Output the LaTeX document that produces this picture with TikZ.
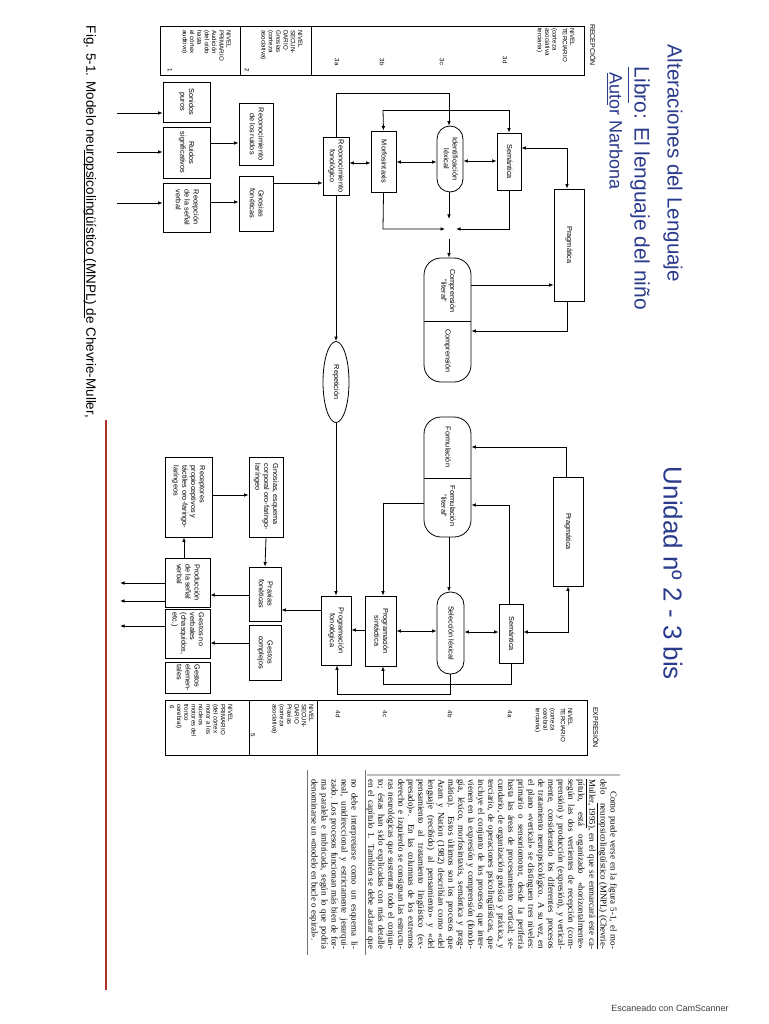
\documentclass[tikz,border=0pt]{standalone}
\usepackage{fontspec}
\setmainfont{Liberation Sans}
\newfontfamily\serifpar{Liberation Serif}
\usepackage{graphicx}
\usetikzlibrary{arrows.meta,shapes.geometric}
\definecolor{inkblue}{HTML}{2A3A8C}
\definecolor{redpen}{HTML}{B0302A}
\newcommand{\rc}[1]{\rotatebox{-90}{\begin{tabular}{@{}c@{}}#1\end{tabular}}}
\newcommand{\rl}[1]{\rotatebox{-90}{\begin{tabular}{@{}l@{}}#1\end{tabular}}}
\newcommand{\jl}[1]{\makebox[170pt][s]{#1}\par}
\newcommand{\nl}[1]{\mbox{#1}\par}
\begin{document}
\begin{tikzpicture}[x=1pt,y=-1pt,
  font=\fontsize{7.3}{8.8}\selectfont,
  bx/.style={draw, line width=0.8pt, inner sep=0pt},
  ln/.style={line width=0.8pt},
  arr/.style={ln,-{Latex[length=4.5pt,width=3.6pt]}},
  darr/.style={ln,{Latex[length=4.5pt,width=3.6pt]}-{Latex[length=4.5pt,width=3.6pt]}},
  hdr/.style={inner sep=0pt, font=\fontsize{6.2}{7.3}\selectfont},
  lab/.style={inner sep=0pt, font=\fontsize{6.2}{7}\selectfont},
  hw/.style={inner sep=0pt, text=inkblue}]
\useasboundingbox (0,0) rectangle (768,1024);
\fill[white] (0,0) rectangle (768,1024);

% ---------- header RECEPCION ----------
\node[bx, minimum width=424pt, minimum height=49pt] (hdrR) at (372,50.5) {};
\draw[ln] (240,26) -- (240,75);
\draw[ln] (311,26) -- (311,75);
\node[hdr, anchor=north east] (h1t) at (232,30) {\rl{NIVEL\\PRIMARIO\\Audición\\(del oído\\hasta\\el córtex\\auditivo)}};
\node[lab] (n1) at (170,70) {\rotatebox{-90}{1}};
\node[hdr, anchor=north east] (h2t) at (303.5,30) {\rl{NIVEL\\SECUN-\\DARIO\\Gnosias\\(corteza\\asociativa)}};
\node[lab] (n2) at (247,70) {\rotatebox{-90}{2}};
\node[hdr, anchor=north east] (h3t) at (575.5,28) {\rl{NIVEL\\TERCIARIO\\[3pt](corteza\\asociativa\\terciaria)}};
\node[lab] (l3a) at (337,62) {\rotatebox{-90}{3\,a}};
\node[lab] (l3b) at (382,62) {\rotatebox{-90}{3\,b}};
\node[lab] (l3c) at (442,62) {\rotatebox{-90}{3\,c}};
\node[lab] (l3d) at (505,60) {\rotatebox{-90}{3\,d}};
\node[inner sep=0pt, anchor=north, font=\fontsize{7}{8}\selectfont] (recep) at (593,24) {\rotatebox{-90}{RECEPCIÓN}};

% ---------- header EXPRESION ----------
\node[bx, minimum width=422pt, minimum height=55pt] (hdrE) at (376,727.5) {};
\draw[ln] (249,700) -- (249,755);
\draw[ln] (317,700) -- (317,755);
\node[hdr, anchor=north east] (h6t) at (233.5,704) {\rl{NIVEL\\PRIMARIO\\(del córtex\\motor a los\\núcleos\\motores del\\tronco\\cerebral)}};
\node[lab] (n6) at (172,707) {\rotatebox{-90}{6}};
\node[hdr, anchor=north east] (h5t) at (314.5,704) {\rl{NIVEL\\SECUN-\\DARIO\\Praxias\\(corteza\\asociativa)}};
\node[lab] (n5) at (253,735) {\rotatebox{-90}{5}};
\node[hdr, anchor=north east] (h4t) at (573.5,708) {\rl{NIVEL\\TERCIARIO\\[3pt](corteza\\cerebral\\terciaria)}};
\node[lab] (l4a) at (510,714) {\rotatebox{-90}{4a}};
\node[lab] (l4b) at (450,714) {\rotatebox{-90}{4b}};
\node[lab] (l4c) at (385,714) {\rotatebox{-90}{4c}};
\node[lab] (l4d) at (338,714) {\rotatebox{-90}{4d}};
\node[inner sep=0pt, anchor=north, font=\fontsize{7}{8}\selectfont] (expr) at (596,707) {\rotatebox{-90}{EXPRESIÓN}};

% ---------- reception boxes ----------
\node[bx, minimum width=47pt, minimum height=40pt] (sonidos) at (186.5,102) {\rc{Sonidos\\puros}};
\node[bx, minimum width=47pt, minimum height=51pt] (ruidos) at (186.5,152.5) {\rc{Ruidos\\significativos}};
\node[bx, minimum width=47pt, minimum height=49pt] (recsenal) at (186.5,207.5) {\rl{Recepción\\de la señal\\verbal}};
\node[bx, minimum width=34pt, minimum height=62pt] (recruidos) at (256,134) {\rc{Reconocimiento\\de los ruidos}};
\node[bx, minimum width=34pt, minimum height=55pt] (gnfon) at (256,203.5) {\rc{Gnosias\\fonéticas}};
\node[bx, minimum width=26pt, minimum height=58pt] (recfon) at (336,166) {\rc{Reconocimiento\\fonológico}};
\node[bx, minimum width=25pt, minimum height=61pt] (morfo) at (383.5,161.5) {\rc{Morfosintaxis}};
\node[bx, rounded corners=13pt, minimum width=26pt, minimum height=66pt] (ident) at (450,159) {\rc{Identificación\\léxical}};
\node[bx, minimum width=24pt, minimum height=57pt] (sem1) at (509,161.5) {\rc{Semántica}};
\node[bx, minimum width=30pt, minimum height=112pt] (prag1) at (569,245) {\rc{Pragmática}};
\node[bx, rounded corners=17pt, minimum width=47pt, minimum height=124pt] (compr) at (447.5,320) {};
\draw[ln] (compr.west |- 0,321) -- (compr.east |- 0,321);
\node[inner sep=0pt] (comprlit) at (447.5,291) {\rc{Comprensión\\"literal"}};
\node[inner sep=0pt] (compr2) at (447.5,351) {\rc{Comprensión}};
\node[bx, ellipse, minimum width=26pt, minimum height=81pt] (repet) at (336,382) {\rc{Repetición}};

% ---------- expression boxes ----------
\node[bx, rounded corners=17pt, minimum width=47pt, minimum height=120pt] (form) at (447.5,477) {};
\draw[ln] (form.west |- 0,478) -- (form.east |- 0,478);
\node[inner sep=0pt] (form1) at (447.5,447) {\rc{Formulación}};
\node[inner sep=0pt] (form2) at (447.5,506) {\rc{Formulación\\"literal"}};
\node[bx, minimum width=30pt, minimum height=109pt] (prag2) at (568,531.5) {\rc{Pragmática}};
\node[bx, minimum width=24pt, minimum height=59pt] (sem2) at (511,633.5) {\rc{Semántica}};
\node[bx, rounded corners=13pt, minimum width=27pt, minimum height=82pt] (selec) at (450.5,633) {\rc{Selección léxical}};
\node[bx, minimum width=31pt, minimum height=70pt] (progsin) at (380.5,631) {\rc{Programación\\sintáctica}};
\node[bx, minimum width=30pt, minimum height=69pt] (progfon) at (336,630.5) {\rc{Programación\\fonológica}};
\node[bx, minimum width=32pt, minimum height=54pt] (praxfon) at (265,594) {\rc{Praxias\\fonéticas}};
\node[bx, minimum width=32pt, minimum height=55pt] (gestcomp) at (265,652.5) {\rc{Gestos\\complejos}};
\node[bx, minimum width=34pt, minimum height=80pt] (gnosesq) at (266,497) {\rl{Gnosias, esquema\\corporal oro-faringo-\\laríngeo}};
\node[bx, minimum width=47pt, minimum height=80pt] (recept) at (188.5,497) {\rl{Receptores\\propioceptivos y\\táctiles oro-faringo-\\laríngeos}};
\node[bx, minimum width=45pt, minimum height=49pt] (prodsenal) at (187.5,582.5) {\rl{Producción\\de la señal\\verbal}};
\node[bx, minimum width=45pt, minimum height=49pt] (gestnov) at (187.5,633.5) {\rl{Gestos no\\verbales\\(chasquidos,\\etc.)}};
\node[bx, minimum width=45pt, minimum height=31pt] (gestelem) at (187.5,677.5) {\rl{Gestos\\elemen-\\tales}};

% ---------- reception connectors ----------
\coordinate (in1) at (117,113);
\coordinate (in2) at (117,152);
\coordinate (in3) at (117,203);
\draw[arr] (in1) -- (in1 -| sonidos.west);
\draw[arr] (in2) -- (in2 -| ruidos.west);
\draw[arr] (in3) -- (in3 -| recsenal.west);
\draw[arr] (ruidos.east |- 0,143) -- (recruidos.west |- 0,143);
\draw[arr] (recsenal.east |- 0,202) -- (gnfon.west |- 0,202);
\draw[arr] (gnfon.east |- 0,183) -- (recfon.west |- 0,183);
\draw[arr] (recfon.north) -- (336,93) -- (449,93) -- (449,0 |- ident.north);
\draw[ln] (383,110) -- (509,110);
\draw[arr] (383,110) -- (morfo.north);
\draw[arr] (509,110) -- (sem1.north);
\draw[darr] (recfon.east |- 0,163) -- (morfo.west |- 0,163);
\draw[darr] (morfo.east |- 0,162) -- (ident.west |- 0,162);
\draw[darr] (ident.east |- 0,161) -- (sem1.west |- 0,161);
\draw[darr] (sem1.east |- 0,148) -- (567,148) -- (567,0 |- prag1.north);
\coordinate (cv1) at (445,229);
\coordinate (cv2) at (456,229);
\coordinate (cv3) at (449,219);
\coordinate (cv4) at (449,239);
\draw[arr] (morfo.south) -- (383,229) -- (cv1);
\draw[arr] (sem1.south) -- (509,229) -- (cv2);
\draw[arr] (ident.south -| cv3) -- (cv3);
\draw[arr] (cv4) -- (cv4 |- compr.north);
\draw[arr] (compr.east |- 0,285) -- (prag1.west |- 0,285);
\draw[arr] (prag1.south -| 567,0) -- (567,331) -- (compr.east |- 0,331);
\draw[arr] (recfon.south) -- (repet.north);
\draw[arr] (repet.south) -- (progfon.north);

% ---------- expression connectors ----------
\draw[arr] (prag2.north -| 566,0) -- (566,447) -- (form.east |- 0,447);
\draw[arr] (sem2.north -| 509,0) -- (509,505) -- (form.east |- 0,505);
\draw[darr] (prag2.south) -- (568,632) -- (sem2.east |- 0,632);
\draw[darr] (selec.east |- 0,632) -- (sem2.west |- 0,632);
\draw[arr] (form.south -| 449,0) -- (449,0 |- selec.north);
\draw[arr] (form.west |- 0,503) -- (383,503) -- (383,0 |- progsin.north);
\draw[darr] (progsin.east |- 0,631) -- (selec.west |- 0,631);
\draw[arr] (progsin.west |- 0,630) -- (progfon.east |- 0,630);
\draw[arr] (sem2.south) -- (511,684) -- (383,684) -- (383,0 |- progsin.south);
\draw[arr] (selec.south -| 450,0) -- (450,694) -- (337,694) -- (337,0 |- progfon.south);
\draw[arr] (progfon.west |- 0,610) -- (praxfon.east |- 0,610);
\draw[arr] (gnosesq.south) -- (praxfon.north);
\draw[arr] (recept.east |- 0,495) -- (gnosesq.west |- 0,495);
\draw[arr] (prodsenal.north -| 184,0) -- (184,0 |- recept.south);
\draw[arr] (praxfon.west |- 0,595) -- (prodsenal.east |- 0,595);
\draw[arr] (gestcomp.west |- 0,643) -- (gestnov.east |- 0,643);
\coordinate (out1) at (120,583);
\coordinate (out2) at (120,601);
\coordinate (out3) at (120,626);
\draw[arr] (out1 -| prodsenal.west) -- (out1);
\draw[arr] (out2 -| gestnov.west) -- (out2);
\draw[arr] (out3 -| gestnov.west) -- (out3);

% ---------- caption ----------
\node[inner sep=0pt] (caption) at (90,222) {\rotatebox{-90}{\resizebox{392pt}{!}{Fig. 5-1. Modelo neuropsicolingüístico (MNPL) de Chevrie-Muller,}}};
\draw[line width=0.9pt] (84,150) -- (84,318);
\draw[redpen, line width=1.2pt] (106,420) -- (106,990);

% ---------- handwriting ----------
\node[hw] (hw1) at (673,163.5) {\rotatebox{-90}{\resizebox{237pt}{!}{Alteraciones del Lenguaje}}};
\node[hw] (hw2) at (640,188.5) {\rotatebox{-90}{\resizebox{243pt}{!}{Libro: El lenguaje del niño}}};
\node[hw] (hw3) at (616,131.5) {\rotatebox{-90}{\resizebox{117pt}{!}{Autor Narbona}}};
\node[hw] (hw4) at (673,573.5) {\rotatebox{-90}{\resizebox{213pt}{!}{Unidad nº 2 - 3 bis}}};
\draw[inkblue, line width=0.9pt] (628,67) -- (628,103);
\draw[inkblue, line width=0.9pt] (607,73) -- (607,105);

% ---------- paragraph clipping ----------
\draw[black!55, line width=1pt] (307,770) -- (307,955);
\draw[black!55, line width=1pt] (365,770) -- (365,955);
\draw[black!25, line width=2pt] (367,775) -- (620,775);
\node[inner sep=0pt, anchor=north east] (para1) at (617,779) {\rotatebox{-90}{\parbox[t]{170pt}{\serifpar\fontsize{8.9}{10}\selectfont\setlength{\parindent}{0pt}%
\jl{\hspace{12pt}Como puede verse en la figura 5-1, el mo-}
\jl{delo \underline{neuropsicolingüístico (MNPL) (Chevrie-}}
\jl{\underline{Muller, 1995)}, en el que se enmarcará este ca-}
\jl{pítulo, está organizado «horizontalmente»}
\jl{según las dos vertientes de recepción (com-}
\jl{prensión) y producción (expresión), y vertical-}
\jl{mente, considerando los diferentes procesos}
\jl{de tratamiento neuropsicológico. A su vez, en}
\jl{el plano «vertical» se distinguen tres niveles:}
\jl{primario o sensoriomotor, desde la periferia}
\jl{hasta las áreas de procesamiento cortical; se-}
\jl{cundario, de organización gnósica y práxica, y}
\jl{terciario, de operaciones psicolingüísticas, que}
\jl{incluye el conjunto de los procesos que inter-}
\jl{vienen en la expresión y comprensión (fonolo-}
\jl{gía, léxico, morfosintaxis, semántica y prag-}
\jl{mática). Estos últimos son los procesos que}
\jl{Aram y Nation (1982) describían como «del}
\jl{lenguaje (recibido) al pensamiento» y «del}
\jl{pensamiento al tratamiento lingüístico (ex-}
\jl{presado)». En las columnas de los extremos}
\jl{derecho e izquierdo se consignan las estructu-}
\jl{ras neurológicas que sustentan todo el conjun-}
\jl{to; éstas han sido explicadas con más detalle}
\jl{en el capítulo 1. También se debe aclarar que}}}};
\node[inner sep=0pt, anchor=north east] (para2) at (358,779) {\rotatebox{-90}{\parbox[t]{170pt}{\serifpar\fontsize{8.9}{10}\selectfont\setlength{\parindent}{0pt}%
\jl{no debe interpretarse como un esquema li-}
\jl{neal, unidireccional y estrictamente jerarqui-}
\jl{zado. Los procesos funcionan más bien de for-}
\jl{ma paralela e imbricada, según lo que podría}
\nl{denominarse un «modelo en bucle o espiral».}}}};

% ---------- footer ----------
\node[inner sep=0pt, text=black!75, font=\fontsize{9}{10}\selectfont] (scan) at (670,1008) {Escaneado con CamScanner};
\end{tikzpicture}
\end{document}
